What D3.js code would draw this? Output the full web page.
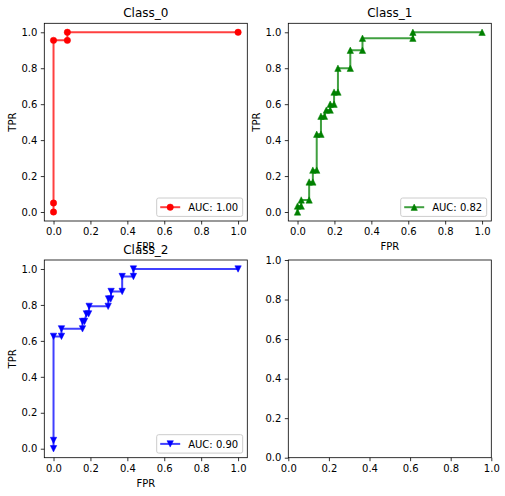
<!DOCTYPE html>
<html><head><meta charset="utf-8">
<script src="https://cdn.jsdelivr.net/npm/d3@7"></script>
<style>
body{margin:0;background:#fff;}
text{font-family:"DejaVu Sans",sans-serif;}
</style></head>
<body><svg id="c" width="505" height="496"></svg>
<script>
const classes = ["Class_0","Class_1","Class_2"];
const colors = ["#ff0000","#008000","#0000ff"];
const markers = ["circle","triangleUp","triangleDown"];
const aucLabels = ["AUC: 1.00","AUC: 0.82","AUC: 0.90"];
const fpr0 = [0,0,0,0.075,0.075,1];
const tpr0 = [0,0.05,0.955,0.955,1,1];
const fpr1 = [0,0,0.02,0.02,0.063,0.063,0.083,0.083,0.104,0.104,0.127,0.127,0.146,0.156,0.177,0.177,0.198,0.198,0.219,0.219,0.286,0.286,0.352,0.352,0.625,0.625,1];
const tpr1 = [0,0.033,0.033,0.067,0.067,0.167,0.167,0.233,0.233,0.433,0.433,0.533,0.533,0.567,0.567,0.6,0.6,0.667,0.667,0.8,0.8,0.9,0.9,0.967,0.967,1,1];
const fpr2 = [0,0,0,0.043,0.043,0.157,0.157,0.168,0.178,0.19,0.193,0.296,0.298,0.31,0.312,0.372,0.372,0.433,0.433,1];
const tpr2 = [0,0.046,0.625,0.625,0.667,0.667,0.708,0.708,0.75,0.75,0.792,0.792,0.833,0.833,0.875,0.875,0.958,0.958,1,1];
const fprs = [fpr0,fpr1,fpr2];
const tprs = [tpr0,tpr1,tpr2];
const ticks1 = [0,0.2,0.4,0.6,0.8,1.0];

const svg = d3.select("#c");
const cols = [44.3, 288.3], rows = [23.3, 260];
const W = 203, H = 197.7;

function panel(i, r, c) {
  const x0 = cols[c], y0 = rows[r];
  const g = svg.append("g").attr("transform", `translate(${x0},${y0})`);
  const empty = i >= 3;
  const x = d3.scaleLinear().domain(empty ? [0,1] : [-0.05,1.05]).range([0,W]);
  const y = d3.scaleLinear().domain(empty ? [0,1] : [-0.05,1.05]).range([H,0]);
  const xa = d3.axisBottom(x).tickValues(ticks1).tickFormat(d3.format(".1f")).tickSize(3.5).tickPadding(3.5);
  const ya = d3.axisLeft(y).tickValues(ticks1).tickFormat(d3.format(".1f")).tickSize(3.5).tickPadding(3.5);
  const gx = g.append("g").attr("transform", `translate(0,${H})`).call(xa);
  const gy = g.append("g").call(ya);
  [gx, gy].forEach(a => {
    a.select(".domain").remove();
    a.selectAll("line").attr("stroke","#000").attr("stroke-width",0.8);
    a.selectAll("text").attr("font-size",10).attr("fill","#000").attr("font-family","DejaVu Sans");
  });
  if (!empty) {
    const fpr = fprs[i], tpr = tprs[i], col = colors[i];
    const pts = fpr.map((f,k)=>[f,tpr[k]]);
    g.append("path").datum(pts)
      .attr("d", d3.line().x(d=>x(d[0])).y(d=>y(d[1])))
      .attr("fill","none").attr("stroke",col).attr("stroke-opacity",0.75).attr("stroke-width",2);
    const sym = markers[i];
    const mg = g.append("g");
    pts.forEach(p => drawMarker(mg, sym, x(p[0]), y(p[1]), col));
    // title
    g.append("text").attr("x",W/2).attr("y",-6).attr("text-anchor","middle").attr("font-size",12).text(classes[i]);
    g.append("text").attr("x",W/2).attr("y",H+29.5).attr("text-anchor","middle").attr("font-size",10).text("FPR");
    g.append("text").attr("transform",`translate(${-28.5},${H/2}) rotate(-90)`).attr("text-anchor","middle").attr("font-size",10).text("TPR");
    // legend
    const lw = 86, lh = 18.4;
    const lx = W - 4.6 - lw, ly = H - 4.6 - lh;
    const lg = g.append("g").attr("transform",`translate(${lx},${ly})`);
    lg.append("rect").attr("width",lw).attr("height",lh).attr("rx",2).attr("fill","#fff").attr("fill-opacity",0.8).attr("stroke","#cccccc").attr("stroke-width",1);
    lg.append("line").attr("x1",3.5).attr("x2",23.5).attr("y1",lh/2).attr("y2",lh/2).attr("stroke",col).attr("stroke-opacity",0.75).attr("stroke-width",2);
    drawMarker(lg, sym, 13.5, lh/2, col);
    lg.append("text").attr("x",31.5).attr("y",lh/2+3.7).attr("font-size",10).text(aucLabels[i]);
  }
  g.append("rect").attr("width",W).attr("height",H).attr("fill","none").attr("stroke","#000").attr("stroke-width",0.8);
}

function drawMarker(g, sym, cx, cy, col) {
  if (sym === "circle") {
    g.append("circle").attr("cx",cx).attr("cy",cy).attr("r",3.2).attr("fill",col).attr("stroke",col).attr("stroke-width",0.5);
  } else {
    const s = 3.2, up = sym === "triangleUp" ? -1 : 1;
    const pts = [[cx, cy + up*s],[cx - s, cy - up*s],[cx + s, cy - up*s]];
    g.append("path").attr("d","M"+pts.map(p=>p.join(",")).join("L")+"Z").attr("fill",col).attr("stroke",col).attr("stroke-width",0.5);
  }
}

panel(0,0,0);
panel(1,0,1);
panel(2,1,0);
panel(3,1,1);
</script></body></html>
